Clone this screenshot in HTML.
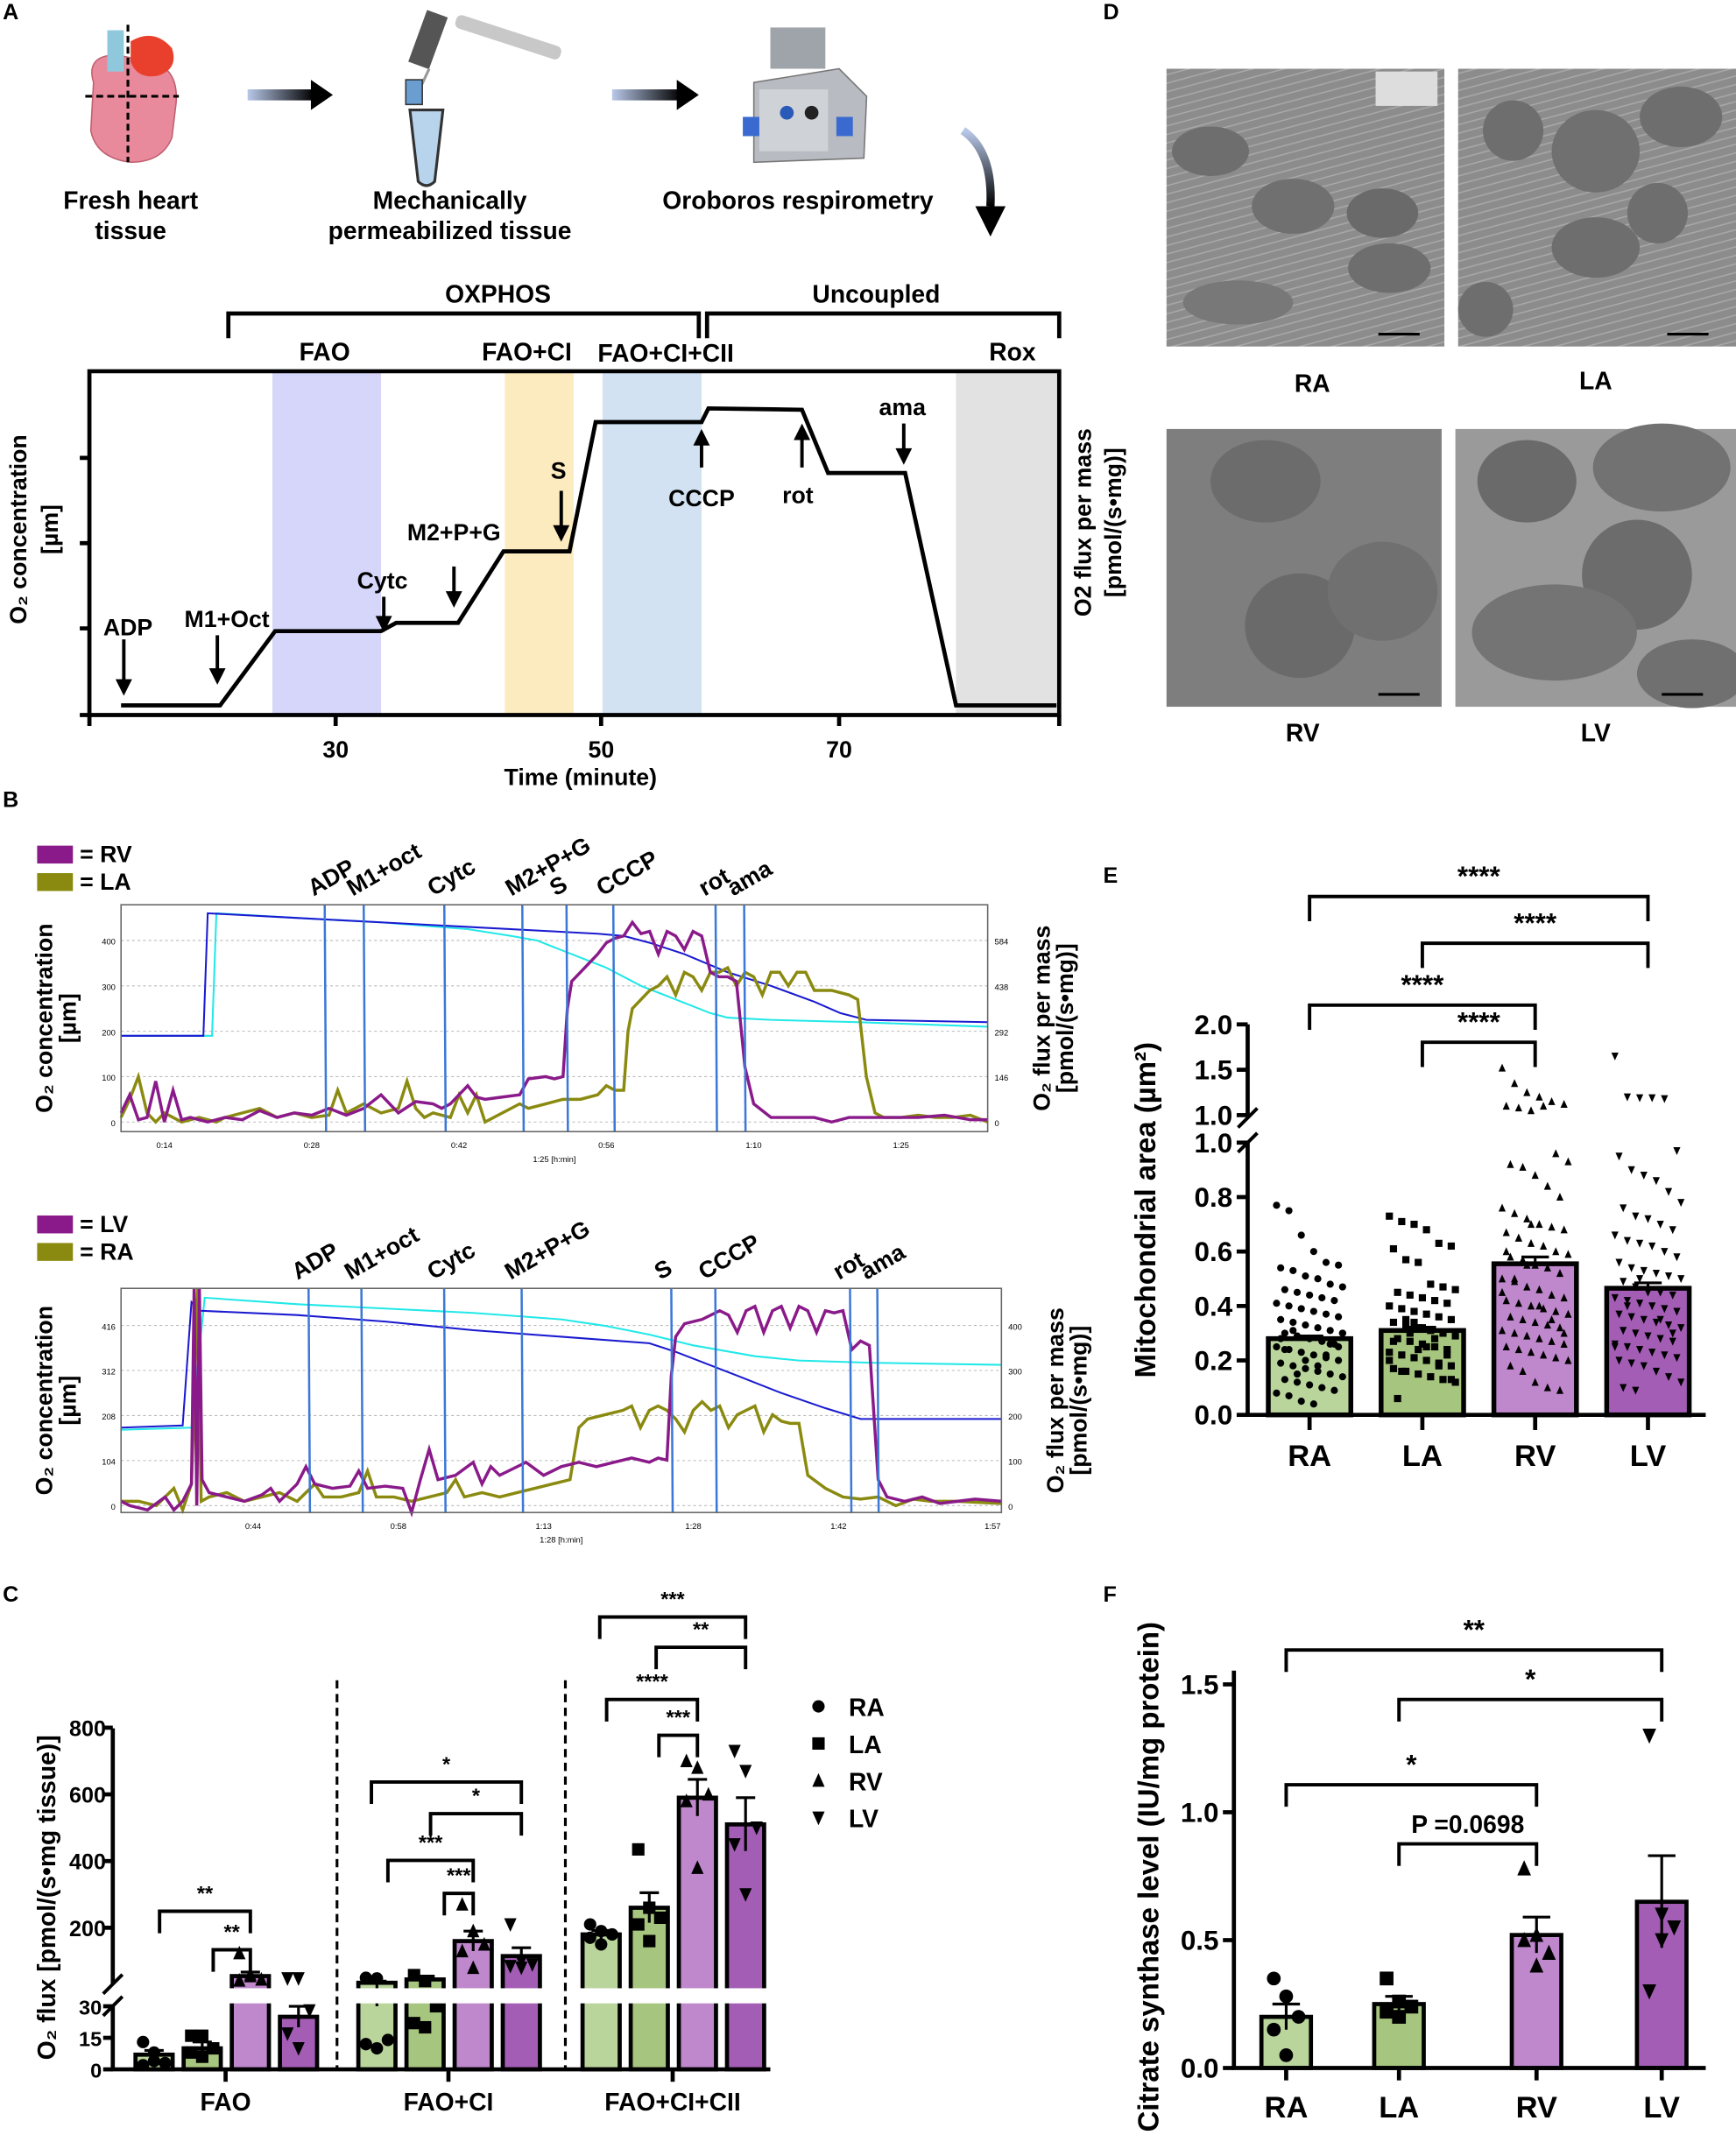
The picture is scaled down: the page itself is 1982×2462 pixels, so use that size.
<!DOCTYPE html>
<html><head><meta charset="utf-8"><style>
html,body{margin:0;padding:0;background:#fff;}
svg{display:block;font-family:"Liberation Sans",sans-serif;font-weight:bold;}
</style></head><body>
<svg id="root" xmlns="http://www.w3.org/2000/svg" width="1982" height="2462" viewBox="0 0 1262 1568" preserveAspectRatio="none">
<defs>
<pattern id="em" width="6" height="6" patternUnits="userSpaceOnUse" patternTransform="rotate(-15)"><rect width="6" height="6" fill="#8c8c8c"/><line x1="0" y1="2" x2="6" y2="2" stroke="#a8a8a8" stroke-width="1"/></pattern>
<linearGradient id="arrg" x1="0" x2="1"><stop offset="0" stop-color="#b8c8e8"/><stop offset="1" stop-color="#000"/></linearGradient>
<linearGradient id="arrv" x1="0" x2="0" y1="0" y2="1"><stop offset="0" stop-color="#b8c8e8"/><stop offset="1" stop-color="#000"/></linearGradient>
</defs>
<g>
<text x="2" y="14" font-size="16">A</text>
<g>
<path d="M68,60 Q62,40 85,40 L110,45 Q130,50 128,75 L125,100 Q118,118 95,118 Q70,115 66,95 Z" fill="#e88a9c" stroke="#c06070"/>
<path d="M95,30 Q112,20 125,35 Q130,50 115,55 Q100,58 95,45 Z" fill="#e8402c"/>
<rect x="78" y="22" width="12" height="30" fill="#8fc8dc"/>
<line x1="93" y1="18" x2="93" y2="118" stroke="#000" stroke-width="2" stroke-dasharray="5,3"/>
<line x1="62" y1="70" x2="130" y2="70" stroke="#000" stroke-width="2" stroke-dasharray="5,3"/>
</g>
<rect x="180" y="65" width="48" height="8" fill="url(#arrg)"/>
<polygon points="226,58 242,69 226,80" fill="#000"/>
<g>
<rect x="333" y="10" width="80" height="10" rx="4" fill="#c8c8c8" transform="rotate(18 333 10)"/>
<rect x="310" y="10" width="16" height="40" fill="#555" transform="rotate(20 318 10)"/>
<line x1="312" y1="50" x2="305" y2="65" stroke="#999" stroke-width="2"/>
<path d="M298,80 L322,80 L316,132 Q310,138 304,132 Z" fill="#b8d4ec" stroke="#333" stroke-width="2"/>
<rect x="295" y="58" width="12" height="18" fill="#6a9ed0" stroke="#333"/>
</g>
<rect x="445" y="65" width="50" height="8" fill="url(#arrg)"/>
<polygon points="492,58 508,69 492,80" fill="#000"/>
<g>
<rect x="560" y="20" width="40" height="30" fill="#9ea4aa"/>
<polygon points="548,60 610,50 630,70 628,115 548,118" fill="#b8bcc2" stroke="#777"/>
<rect x="552" y="65" width="50" height="45" fill="#cfd2d6"/>
<circle cx="572" cy="82" r="5" fill="#2a5ab8"/><circle cx="590" cy="82" r="5" fill="#222"/>
<rect x="540" y="85" width="12" height="14" fill="#3a6ad0"/><rect x="608" y="85" width="12" height="14" fill="#3a6ad0"/>
</g>
<path d="M700,95 Q722,110 720,150" fill="none" stroke="url(#arrv)" stroke-width="6"/>
<polygon points="709,150 731,150 720,172" fill="#000"/>
<g font-size="18" text-anchor="middle">
<text x="95" y="152">Fresh heart</text>
<text x="95" y="174">tissue</text>
<text x="327" y="152">Mechanically</text>
<text x="327" y="174">permeabilized tissue</text>
<text x="580" y="152">Oroboros respirometry</text>
<text x="362" y="220">OXPHOS</text>
<text x="637" y="220">Uncoupled</text>
<text x="236" y="262">FAO</text>
<text x="383" y="262">FAO+CI</text>
<text x="484" y="263">FAO+CI+CII</text>
<text x="736" y="262">Rox</text>
</g>
<path d="M166,246 V228 H508 V246" fill="none" stroke="#000" stroke-width="3"/>
<path d="M514,246 V228 H770 V246" fill="none" stroke="#000" stroke-width="3"/>
<rect x="198" y="271" width="79" height="248" fill="#d6d6fa"/>
<rect x="367" y="271" width="50" height="248" fill="#fdebc0"/>
<rect x="438" y="271" width="72" height="248" fill="#d2e2f3"/>
<rect x="695" y="271" width="74" height="248" fill="#e2e2e2"/>
<path d="M65,270 H770 V520 H65 Z" fill="none" stroke="#000" stroke-width="3"/>
<path d="M58,333 H65 M58,395 H65 M58,457 H65 M58,520 H65 M244,520 V528 M437,520 V528 M610,520 V528 M65,520 V528 M770,520 V528" stroke="#000" stroke-width="3"/>
<polyline points="88,513 160,513 200,459 277,459 288,453 333,453 366,401 414,401 433,307 510,307 515,297 583,298 602,344 658,344 695,513 768,513" fill="none" stroke="#000" stroke-width="3"/>
<g stroke="#000" stroke-width="2.5">
<line x1="90" y1="465" x2="90" y2="496"/><line x1="158" y1="462" x2="158" y2="488"/><line x1="279" y1="434" x2="279" y2="450"/><line x1="330" y1="412" x2="330" y2="432"/><line x1="408" y1="357" x2="408" y2="385"/><line x1="510" y1="340" x2="510" y2="322"/><line x1="583" y1="340" x2="583" y2="318"/><line x1="657" y1="308" x2="657" y2="328"/>
</g>
<g fill="#000">
<polygon points="84,494 96,494 90,506"/><polygon points="152,486 164,486 158,498"/><polygon points="273,448 285,448 279,460"/><polygon points="324,430 336,430 330,442"/><polygon points="402,382 414,382 408,394"/><polygon points="504,324 516,324 510,312"/><polygon points="577,320 589,320 583,308"/><polygon points="651,326 663,326 657,338"/>
</g>
<g font-size="17" text-anchor="middle">
<text x="93" y="462">ADP</text>
<text x="165" y="456">M1+Oct</text>
<text x="278" y="428">Cytc</text>
<text x="330" y="393">M2+P+G</text>
<text x="406" y="348">S</text>
<text x="510" y="368">CCCP</text>
<text x="580" y="366">rot</text>
<text x="656" y="302">ama</text>
<text x="244" y="551">30</text>
<text x="437" y="551">50</text>
<text x="610" y="551">70</text>
<text x="422" y="571">Time (minute)</text>
<text transform="translate(19,385) rotate(-90)">O₂ concentration</text>
<text transform="translate(42,385) rotate(-90)">[µm]</text>
<text transform="translate(793,380) rotate(-90)">O2 flux per mass</text>
<text transform="translate(815,380) rotate(-90)">[pmol/(s•mg)]</text>
</g>
</g>
<g>
<text x="802" y="14" font-size="16">D</text>
<g><rect x="848" y="50" width="202" height="202" fill="url(#em)"/><ellipse cx="880" cy="110" rx="28" ry="18" fill="#6e6e6e"/><ellipse cx="940" cy="150" rx="30" ry="20" fill="#707070"/><ellipse cx="1005" cy="155" rx="26" ry="18" fill="#6a6a6a"/><ellipse cx="1010" cy="195" rx="30" ry="18" fill="#6e6e6e"/><ellipse cx="900" cy="220" rx="40" ry="16" fill="#787878"/><rect x="1000" y="52" width="45" height="25" fill="#ddd"/><line x1="1002" y1="243" x2="1032" y2="243" stroke="#000" stroke-width="2"/></g>
<g><rect x="1060" y="50" width="202" height="202" fill="url(#em)"/><ellipse cx="1100" cy="95" rx="22" ry="22" fill="#6e6e6e"/><ellipse cx="1160" cy="110" rx="32" ry="30" fill="#707070"/><ellipse cx="1222" cy="85" rx="30" ry="22" fill="#6e6e6e"/><ellipse cx="1160" cy="180" rx="32" ry="22" fill="#6e6e6e"/><ellipse cx="1205" cy="155" rx="22" ry="22" fill="#6e6e6e"/><ellipse cx="1080" cy="225" rx="20" ry="20" fill="#6e6e6e"/><line x1="1212" y1="243" x2="1242" y2="243" stroke="#000" stroke-width="2"/></g>
<g><rect x="848" y="312" width="200" height="202" fill="#7e7e7e"/><ellipse cx="920" cy="350" rx="40" ry="30" fill="#6c6c6c"/><ellipse cx="945" cy="455" rx="40" ry="38" fill="#6a6a6a"/><ellipse cx="1005" cy="430" rx="40" ry="36" fill="#707070"/><line x1="1002" y1="505" x2="1032" y2="505" stroke="#000" stroke-width="2"/></g>
<g><rect x="1058" y="312" width="204" height="202" fill="#9a9a9a"/><ellipse cx="1110" cy="350" rx="36" ry="30" fill="#6a6a6a"/><ellipse cx="1208" cy="340" rx="50" ry="32" fill="#727272"/><ellipse cx="1190" cy="418" rx="40" ry="40" fill="#6c6c6c"/><ellipse cx="1130" cy="460" rx="60" ry="35" fill="#747474"/><ellipse cx="1230" cy="490" rx="40" ry="25" fill="#707070"/><line x1="1208" y1="505" x2="1238" y2="505" stroke="#000" stroke-width="2"/></g>
<g font-size="18" text-anchor="middle">
<text x="954" y="285">RA</text>
<text x="1160" y="283">LA</text>
<text x="947" y="539">RV</text>
<text x="1160" y="539">LV</text>
</g>
</g>
<text x="2" y="587" font-size="16">B</text>
<text x="2" y="1165" font-size="16">C</text>
<text x="802" y="642" font-size="16">E</text>
<text x="802" y="1165" font-size="16">F</text>
</svg>
<script>
const NS='http://www.w3.org/2000/svg';
const root=document.getElementById('root');
function mk(tag,attrs,name,parent){
  const el=document.createElementNS(NS,tag);
  for(const k in attrs) el.setAttribute(k,attrs[k]);
  
  
  (parent||root).appendChild(el);
  return el;
}
function txt(x,y,s,size,name,extra){
  const a=Object.assign({x:x,y:y,'font-size':size},extra||{});
  const t=mk('text',a,name);t.textContent=s;return t;
}

/* ---------- Panel B data ---------- */
const b1Events=['ADP','M1+oct','Cytc','M2+P+G','S','CCCP','rot','ama'];
const b1EventX=[23.5,28,37.3,46.3,51.4,56.8,68.6,71.9];
const b1XTicks=['0:14','0:28','0:42','0:56','1:10','1:25'];
const b1XTickPos=[5,22,39,56,73,90];
const b1LeftTicks=[0,100,200,300,400];
const b1RightTicks=['0','146','292','438','584'];
const b1Purple=[[0,20],[1,60],[2,5],[3,10],[4,90],[5,0],[6,70],[7,5],[8,10],[10,0],[12,10],[14,5],[16,25],[18,10],[20,20],[22,15],[24,30],[26,15],[28,30],[30,60],[31,40],[32,20],[34,45],[36,40],[37,30],[38,40],[40,80],[41,55],[42,50],[44,55],[46,60],[47,95],[49,100],[50,95],[51,100],[51.5,250],[52,310],[53,330],[54,350],[55,370],[56,395],[57,405],[58,410],[59,440],[60,415],[61,420],[62,370],[63,420],[64,410],[65,380],[66,420],[67,410],[68,330],[69,320],[70,320],[71,310],[72,120],[73,40],[75,10],[78,10],[80,10],[82,0],[84,10],[86,10],[88,10],[90,10],[92,10],[95,15],[98,5],[100,5]];
const b1Olive=[[0,10],[1,50],[2,100],[3,20],[4,0],[5,20],[7,0],[9,10],[11,0],[12,10],[14,20],[16,30],[18,10],[20,20],[22,10],[24,15],[25,70],[26,20],[28,40],[30,20],[32,30],[33,90],[34,30],[35,10],[36,20],[38,10],[39,60],[40,20],[41,60],[42,0],[44,20],[46,40],[47,30],[49,40],[51,50],[53,50],[55,60],[56,80],[57,70],[58,70],[58.5,200],[59,250],[60,270],[61,290],[62,300],[63,320],[64,280],[65,330],[66,320],[67,290],[68,330],[69,330],[70,340],[71,300],[72,330],[73,320],[74,280],[75,330],[76,330],[77,300],[78,330],[79,330],[80,290],[82,290],[84,280],[85,270],[86,100],[87,20],[88,10],[90,10],[92,15],[94,10],[96,10],[98,15],[100,0]];
const b1Blue=[[0,190],[9.5,190],[10,460],[20,450],[30,440],[40,430],[50,420],[55,415],[58,410],[61,395],[65,370],[70,330],[75,300],[80,265],[83,240],[86,225],[100,220]];
const b1Cyan=[[0,190],[10.5,190],[11,460],[20,450],[30,440],[40,425],[45,410],[48,400],[52,370],[56,340],[60,300],[64,270],[68,240],[70,230],[75,225],[85,220],[100,210]];

const b2Events=['ADP','M1+oct','Cytc','M2+P+G','S','CCCP','rot','ama'];
const b2EventX=[21.3,27.3,36.7,45.5,62.5,67.5,82.8,85.9];
const b2XTicks=['0:44','0:58','1:13','1:28','1:42','1:57'];
const b2XTickPos=[15,31.5,48,65,81.5,99];
const b2LeftTicks=[0,104,208,312,416];
const b2RightTicks=['0','100','200','300','400'];
const b2Purple=[[0,10],[1,0],[3,-10],[5,20],[6,-10],[7,10],[8,50],[8.3,500],[8.6,0],[8.9,500],[9.2,60],[10,30],[12,20],[14,10],[16,25],[17,40],[18,10],[20,50],[21,90],[22,50],[24,40],[26,45],[27,80],[28,40],[30,45],[32,40],[33,-20],[34,60],[35,130],[36,60],[38,70],[40,100],[41,50],[42,90],[43,70],[44,80],[46,100],[48,70],[50,90],[52,100],[54,90],[56,100],[58,110],[60,100],[61,110],[62,105],[62.5,300],[63,390],[64,420],[66,430],[68,450],[69,440],[70,400],[71,450],[72,460],[73,400],[74,450],[75,460],[76,410],[77,460],[78,450],[79,400],[80,450],[81,445],[82,450],[83,360],[84,380],[85,370],[86,60],[87,20],[89,10],[91,20],[93,5],[95,10],[97,15],[100,10]];
const b2Olive=[[0,10],[2,10],[4,0],[6,40],[7,-10],[8,50],[8.7,500],[9.1,10],[10,20],[12,30],[14,10],[16,20],[18,30],[20,10],[22,50],[23,20],[25,20],[27,30],[28,80],[29,20],[31,20],[33,10],[35,20],[37,30],[38,60],[39,20],[41,30],[43,20],[45,30],[47,40],[49,50],[51,60],[52,180],[53,200],[55,210],[57,220],[58,230],[59,180],[60,220],[61,230],[62,220],[63,200],[64,170],[65,220],[66,240],[67,220],[68,230],[69,180],[70,210],[71,220],[72,230],[73,170],[74,210],[75,195],[76,190],[77,190],[78,70],[80,40],[82,20],[84,15],[86,20],[88,0],[90,15],[92,10],[95,10],[100,5]];
const b2Blue=[[0,180],[7,185],[8,470],[9,450],[20,440],[30,425],[40,405],[50,390],[60,375],[63,355],[70,300],[75,260],[80,225],[84,200],[100,200]];
const b2Cyan=[[0,175],[8,180],[9.5,480],[20,465],[30,455],[40,445],[50,430],[55,415],[60,395],[65,370],[72,345],[77,335],[85,330],[100,325]];

function tracePlot(o){
  const x=u=>o.x0+u/100*(o.x1-o.x0);
  const y=v=>o.yZero-v*o.pxPer;
  const g=mk('g',{},o.name);
  o.leftTicks.forEach((t,i)=>{
    mk('line',{x1:o.x0,x2:o.x1,y1:y(t),y2:y(t),stroke:'#bbb','stroke-dasharray':'2,2','stroke-width':0.7},'gridline',g);
    txt(o.x0-4,y(t)+3,String(t),6,'left-tick-label',{'text-anchor':'end','font-weight':'normal'});
    txt(o.x1+5,y(t)+3,o.rightTicks[i],6,'right-tick-label',{'font-weight':'normal'});
  });
  o.xTicks.forEach((t,i)=>txt(x(o.xTickPos[i]),o.y1+12,t,6,'x-tick-label',{'text-anchor':'middle','font-weight':'normal'}));
  txt((o.x0+o.x1)/2,o.y1+22,o.xTitle,6,'x-axis-title',{'text-anchor':'middle','font-weight':'normal'});
  const series=[[o.cyan,'#22e8e8','o2-conc-series-2'],[o.blue,'#1a1ad0','o2-conc-series-1'],[o.olive,'#8a8a10','flux-olive-series'],[o.purple,'#8a1a8a','flux-purple-series']];
  series.forEach(s=>{
    mk('polyline',{points:s[0].map(p=>x(p[0])+','+Math.max(o.y0,Math.min(o.y1,y(p[1])))).join(' '),fill:'none',stroke:s[1],'stroke-width':s[1]=='#1a1ad0'||s[1]=='#22e8e8'?1.3:2.2},s[2],g);
  });
  o.eventX.forEach((e,i)=>{
    mk('line',{x1:x(e),x2:x(e)+1,y1:o.y0,y2:o.y1,stroke:'#3b78d8','stroke-width':1.6},'event-line',g);
    txt(x(e)-8,o.y0-6,o.events[i],17,'event-label',{transform:'rotate(-30 '+(x(e)-8)+' '+(o.y0-6)+')'});
  });
  mk('rect',{x:o.x0,y:o.y0,width:o.x1-o.x0,height:o.y1-o.y0,fill:'none',stroke:'#666','stroke-width':1},'plot-frame',g);
  txt(0,0,'O₂ concentration',17,'y-axis-title',{transform:'translate('+(o.x0-50)+','+((o.y0+o.y1)/2)+') rotate(-90)','text-anchor':'middle'});
  txt(0,0,'[µm]',17,'y-axis-unit',{transform:'translate('+(o.x0-33)+','+((o.y0+o.y1)/2)+') rotate(-90)','text-anchor':'middle'});
  txt(0,0,'O₂ flux per mass',17,'y2-axis-title',{transform:'translate('+(o.x1+45)+','+((o.y0+o.y1)/2)+') rotate(-90)','text-anchor':'middle'});
  txt(0,0,'[pmol/(s•mg)]',17,'y2-axis-unit',{transform:'translate('+(o.x1+62)+','+((o.y0+o.y1)/2)+') rotate(-90)','text-anchor':'middle'});
  mk('rect',{x:27,y:o.legY,width:26,height:13,fill:'#8a1a8a'},'legend-swatch-purple');
  txt(58,o.legY+12,o.legA,17,'legend-label-purple');
  mk('rect',{x:27,y:o.legY+20,width:26,height:13,fill:'#8a8a10'},'legend-swatch-olive');
  txt(58,o.legY+32,o.legB,17,'legend-label-olive');
}
tracePlot({name:'trace-plot-rv-la',x0:88,x1:718,y0:658,y1:823,yZero:816,pxPer:0.33,leftTicks:b1LeftTicks,rightTicks:b1RightTicks,xTicks:b1XTicks,xTickPos:b1XTickPos,xTitle:'1:25 [h:min]',purple:b1Purple,olive:b1Olive,blue:b1Blue,cyan:b1Cyan,events:b1Events,eventX:b1EventX,legY:615,legA:'= RV',legB:'= LA'});
tracePlot({name:'trace-plot-lv-ra',x0:88,x1:728,y0:937,y1:1100,yZero:1095,pxPer:0.315,leftTicks:b2LeftTicks,rightTicks:b2RightTicks,xTicks:b2XTicks,xTickPos:b2XTickPos,xTitle:'1:28 [h:min]',purple:b2Purple,olive:b2Olive,blue:b2Blue,cyan:b2Cyan,events:b2Events,eventX:b2EventX,legY:884,legA:'= LV',legB:'= RA'});

const groupNames=['RA','LA','RV','LV'];
const barColors=['#b9d59c','#a6c57e','#bf87cc','#a35db5'];
function marker(shape,cx,cy,r,name){
  if(shape==0) return mk('circle',{cx:cx,cy:cy,r:r,fill:'#000'},name);
  if(shape==1) return mk('rect',{x:cx-r,y:cy-r,width:2*r,height:2*r,fill:'#000'},name);
  if(shape==2) return mk('polygon',{points:(cx-r)+','+(cy+r)+' '+(cx+r)+','+(cy+r)+' '+cx+','+(cy-r*1.2),fill:'#000'},name);
  return mk('polygon',{points:(cx-r)+','+(cy-r)+' '+(cx+r)+','+(cy-r)+' '+cx+','+(cy+r*1.2),fill:'#000'},name);
}
function bracket(x1,x2,y,label,name,drop,fs){
  mk('path',{d:'M'+x1+','+(y+drop)+' V'+y+' H'+x2+' V'+(y+drop),fill:'none',stroke:'#000','stroke-width':2.5},name);
  txt((x1+x2)/2,y-8,label,fs||17,name+'-label',{'text-anchor':'middle'});
}

/* ---------- Panel C data ---------- */
const cGroups=['FAO','FAO+CI','FAO+CI+CII'];
const cMeans=[[7,10,55,25],[35,45,160,115],[180,260,590,510]];
const cSem=[[2,3,12,5],[5,10,30,25],[12,45,55,80]];
const cPoints=[
 [[13,8,3,2,4],[16,16,10,8,6],[124,60,45,42,55],[48,48,28,17,10]],
 [[50,48,14,12,10],[58,40,30,22,20],[270,190,150,130,80],[210,100,90,85,80]],
 [[210,190,180,170,150],[435,260,230,210,160],[700,680,600,580,380],[730,670,500,450,300]]];
const cUpperTicks=[200,400,600,800];
const cLowerTicks=[0,15,30];
(function(){
  const yC=v=> v<=30 ? 1505-v*1.53 : Math.min(1443,1402-(v-200)*0.2425);
  const centers=[164,326,489], offs=[-52,-17,18,53], bw=27, ax=82;
  cGroups.forEach((gname,gi)=>{
    groupNames.forEach((n,bi)=>{
      const cx=centers[gi]+offs[bi], top=yC(cMeans[gi][bi]);
      mk('rect',{x:cx-bw/2,y:top,width:bw,height:1505-top,fill:barColors[bi],stroke:'#000','stroke-width':3},'bar-'+gname+'-'+n);
      mk('path',{d:'M'+cx+','+yC(cMeans[gi][bi]+cSem[gi][bi])+' V'+yC(Math.max(0,cMeans[gi][bi]-cSem[gi][bi]))+' M'+(cx-7)+','+yC(cMeans[gi][bi]+cSem[gi][bi])+' h14',stroke:'#000','stroke-width':2,fill:'none'},'error-bar-'+gname+'-'+n);
      cPoints[gi][bi].forEach((v,k)=>marker(bi,cx+((k%3)-1)*8,yC(v),4.5,'point-'+gname+'-'+n));
    });
    mk('line',{x1:centers[gi],x2:centers[gi],y1:1505,y2:1514,stroke:'#000','stroke-width':3},'x-tick-c');
    txt(centers[gi],1535,gname,18,'x-label-'+gname,{'text-anchor':'middle'});
  });
  mk('rect',{x:90,y:1446,width:480,height:11,fill:'#fff'},'axis-break-gap');
  mk('path',{d:'M'+ax+',1257 V1443 M'+ax+',1459 V1505 H560',fill:'none',stroke:'#000','stroke-width':3},'axis-c');
  mk('path',{d:'M'+(ax-7)+',1450 l14,-14 M'+(ax-7)+',1466 l14,-14',stroke:'#000','stroke-width':2.5},'axis-break-marks-c');
  cUpperTicks.forEach(t=>{mk('line',{x1:ax-7,x2:ax,y1:yC(t),y2:yC(t),stroke:'#000','stroke-width':3},'y-tick-c');txt(ax-5,yC(t)+6,String(t),16,'y-tick-label-c',{'text-anchor':'end'});});
  cLowerTicks.forEach(t=>{mk('line',{x1:ax-7,x2:ax,y1:yC(t),y2:yC(t),stroke:'#000','stroke-width':3},'y-tick-c');txt(ax-8,yC(t)+6,String(t),15,'y-tick-label-c',{'text-anchor':'end'});});
  mk('path',{d:'M245,1222 V1505 M411,1222 V1505',stroke:'#000','stroke-width':2,'stroke-dasharray':'6,4'},'group-dividers');
  txt(0,0,'O₂ flux [pmol/(s•mg tissue)]',18,'y-axis-title-c',{transform:'translate(40,1380) rotate(-90)','text-anchor':'middle'});
  const bx=(g,b)=>centers[g]+offs[b];
  bracket(bx(0,0)+4,bx(0,2),1390,'**','sig-fao-ra-rv',16,15);
  bracket(bx(0,1)+8,bx(0,2),1418,'**','sig-fao-la-rv',16,15);
  bracket(bx(1,0)-4,bx(1,3),1296,'*','sig-ci-ra-lv',16,15);
  bracket(bx(1,1)+4,bx(1,3),1319,'*','sig-ci-la-lv',16,15);
  bracket(bx(1,0)+8,bx(1,2),1353,'***','sig-ci-ra-rv',16,15);
  bracket(bx(1,1)+14,bx(1,2),1377,'***','sig-ci-la-rv',16,15);
  bracket(bx(2,0)-1,bx(2,3),1176,'***','sig-cii-ra-lv',16,15);
  bracket(bx(2,1)+5,bx(2,3),1198,'**','sig-cii-la-lv',16,15);
  bracket(bx(2,0)+4,bx(2,2),1236,'****','sig-cii-ra-rv',16,15);
  bracket(bx(2,1)+7,bx(2,2),1262,'***','sig-cii-la-rv',16,15);
  groupNames.forEach((n,i)=>{marker(i,595,1241+i*27,4.5,'legend-marker-'+n);txt(617,1248+i*27,n,18,'legend-label-'+n);});
})();

/* ---------- Panel E data ---------- */
const eMeans=[0.28,0.31,0.555,0.465];
const eSem=[0.01,0.012,0.025,0.02];
const ePointsRA=[0.77,0.75,0.66,0.6,0.56,0.55,0.54,0.53,0.51,0.5,0.48,0.47,0.46,0.45,0.44,0.43,0.42,0.41,0.4,0.39,0.38,0.37,0.36,0.35,0.34,0.33,0.32,0.31,0.3,0.3,0.29,0.28,0.27,0.26,0.25,0.24,0.23,0.22,0.21,0.2,0.19,0.18,0.17,0.16,0.15,0.14,0.13,0.12,0.11,0.1,0.09,0.08,0.07,0.05,0.04,0.22,0.25,0.28,0.31,0.2,0.18,0.26,0.3,0.24,0.15];
const ePointsLA=[0.73,0.71,0.7,0.68,0.63,0.62,0.61,0.57,0.56,0.48,0.47,0.46,0.45,0.44,0.43,0.42,0.41,0.4,0.39,0.38,0.37,0.36,0.35,0.34,0.33,0.32,0.31,0.3,0.29,0.28,0.27,0.26,0.25,0.24,0.23,0.22,0.21,0.2,0.19,0.18,0.17,0.16,0.15,0.14,0.13,0.12,0.06,0.3,0.32,0.28,0.22,0.2,0.16,0.34,0.25,0.18,0.13,0.27,0.35,0.24];
const ePointsRV=[1.52,1.35,1.25,1.2,1.15,1.12,1.1,1.08,1.05,1.1,0.96,0.93,0.92,0.91,0.88,0.84,0.8,0.76,0.74,0.72,0.7,0.69,0.68,0.67,0.65,0.63,0.62,0.6,0.59,0.58,0.57,0.55,0.54,0.52,0.5,0.49,0.47,0.46,0.44,0.43,0.42,0.41,0.4,0.39,0.38,0.37,0.36,0.35,0.34,0.33,0.32,0.31,0.3,0.29,0.28,0.27,0.26,0.25,0.24,0.23,0.22,0.21,0.2,0.18,0.16,0.12,0.1,0.09,0.45,0.5,0.55,0.4,0.35,0.3,0.6,0.65,0.7];
const ePointsLV=[1.65,1.2,1.19,1.19,1.18,0.97,0.95,0.9,0.88,0.86,0.82,0.78,0.76,0.73,0.72,0.7,0.68,0.66,0.64,0.63,0.62,0.6,0.58,0.56,0.54,0.53,0.52,0.51,0.5,0.49,0.47,0.46,0.45,0.44,0.43,0.42,0.41,0.4,0.39,0.38,0.37,0.36,0.35,0.34,0.33,0.32,0.31,0.3,0.29,0.28,0.27,0.26,0.25,0.24,0.23,0.22,0.21,0.2,0.19,0.18,0.16,0.14,0.12,0.1,0.09,0.45,0.35,0.3,0.25,0.4,0.5];
const eLowerTicks=['0.0','0.2','0.4','0.6','0.8','1.0'];
const eUpperTicks=['1.0','1.5','2.0'];
(function(){
  const yE=v=> v<=1.0 ? 1029-v*198 : 811-(v-1)*66;
  const centers=[952,1034,1116,1198], bw=60;
  const pts=[ePointsRA,ePointsLA,ePointsRV,ePointsLV];
  groupNames.forEach((n,i)=>{
    const cx=centers[i], top=yE(eMeans[i]);
    mk('rect',{x:cx-bw/2,y:top,width:bw,height:1029-top,fill:barColors[i],stroke:'#000','stroke-width':3.5},'bar-area-'+n);
    pts[i].forEach((v,k)=>marker(i,cx+(((k*37)%17)-8)*3,yE(v),2.6,'point-area-'+n));
    mk('path',{d:'M'+(cx-10)+','+yE(eMeans[i]+eSem[i])+' h20 M'+cx+','+yE(eMeans[i]+eSem[i])+' V'+top,stroke:'#000','stroke-width':2},'error-bar-area-'+n);
    mk('line',{x1:cx,x2:cx,y1:1029,y2:1040,stroke:'#000','stroke-width':3},'x-tick-e');
    txt(cx,1066,n,22,'x-label-area-'+n,{'text-anchor':'middle'});
  });
  mk('path',{d:'M907,745 V811 M907,831 V1029 H1240',fill:'none',stroke:'#000','stroke-width':3},'axis-e');
  mk('path',{d:'M900,820 L914,806 M900,838 L914,824',stroke:'#000','stroke-width':2.5},'axis-break-marks-e');
  eLowerTicks.forEach(t=>{const yy=yE(parseFloat(t));mk('line',{x1:899,x2:907,y1:yy,y2:yy,stroke:'#000','stroke-width':3},'y-tick-e');txt(896,yy+7,t,20,'y-tick-label-e',{'text-anchor':'end'});});
  eUpperTicks.forEach(t=>{const v=parseFloat(t);const yy=v<=1?811:yE(v);mk('line',{x1:899,x2:907,y1:yy,y2:yy,stroke:'#000','stroke-width':3},'y-tick-e');txt(896,yy+7,t,20,'y-tick-label-e',{'text-anchor':'end'});});
  txt(0,0,'Mitochondrial area (µm²)',21,'y-axis-title-e',{transform:'translate(840,880) rotate(-90)','text-anchor':'middle'});
  bracket(centers[0],centers[3],652,'****','sig-area-ra-lv',18,20);
  bracket(centers[1],centers[3],686,'****','sig-area-la-lv',18,20);
  bracket(centers[0],centers[2],731,'****','sig-area-ra-rv',18,20);
  bracket(centers[1],centers[2],758,'****','sig-area-la-rv',18,20);
})();

/* ---------- Panel F data ---------- */
const fMeans=[0.2,0.25,0.52,0.65];
const fSem=[0.05,0.03,0.07,0.18];
const fPoints=[[0.35,0.28,0.2,0.15,0.05],[0.35,0.26,0.24,0.22,0.2],[0.78,0.52,0.45,0.5,0.4],[1.3,0.6,0.55,0.3,0.5]];
const fTicks=['0.0','0.5','1.0','1.5'];
(function(){
  const yF=v=>1504-v*186;
  const centers=[935,1017,1117,1208], bw=36;
  groupNames.forEach((n,i)=>{
    const cx=centers[i], top=yF(fMeans[i]);
    mk('rect',{x:cx-bw/2,y:top,width:bw,height:1504-top,fill:barColors[i],stroke:'#000','stroke-width':3},'bar-cs-'+n);
    mk('path',{d:'M'+(cx-10)+','+yF(fMeans[i]+fSem[i])+' h20 M'+cx+','+yF(fMeans[i]+fSem[i])+' V'+yF(fMeans[i]-fSem[i]),stroke:'#000','stroke-width':2},'error-bar-cs-'+n);
    fPoints[i].forEach((v,k)=>marker(i,cx+((k%3)-1)*9,yF(v),5,'point-cs-'+n));
    mk('line',{x1:cx,x2:cx,y1:1504,y2:1513,stroke:'#000','stroke-width':3},'x-tick-f');
    txt(cx,1540,n,22,'x-label-cs-'+n,{'text-anchor':'middle'});
  });
  mk('path',{d:'M897,1215 V1504 H1240',fill:'none',stroke:'#000','stroke-width':3},'axis-f');
  fTicks.forEach(t=>{const yy=yF(parseFloat(t));mk('line',{x1:889,x2:897,y1:yy,y2:yy,stroke:'#000','stroke-width':3},'y-tick-f');txt(886,yy+7,t,20,'y-tick-label-f',{'text-anchor':'end'});});
  txt(0,0,'Citrate synthase level (IU/mg protein)',21,'y-axis-title-f',{transform:'translate(842,1365) rotate(-90)','text-anchor':'middle'});
  bracket(centers[0],centers[3],1200,'**','sig-cs-ra-lv',16,20);
  bracket(centers[1],centers[3],1236,'*','sig-cs-la-lv',16,20);
  bracket(centers[0],centers[2],1298,'*','sig-cs-ra-rv',16,20);
  bracket(centers[1],centers[2],1341,'P =0.0698','sig-cs-la-rv',16,18);
})();
</script>
</body></html>
